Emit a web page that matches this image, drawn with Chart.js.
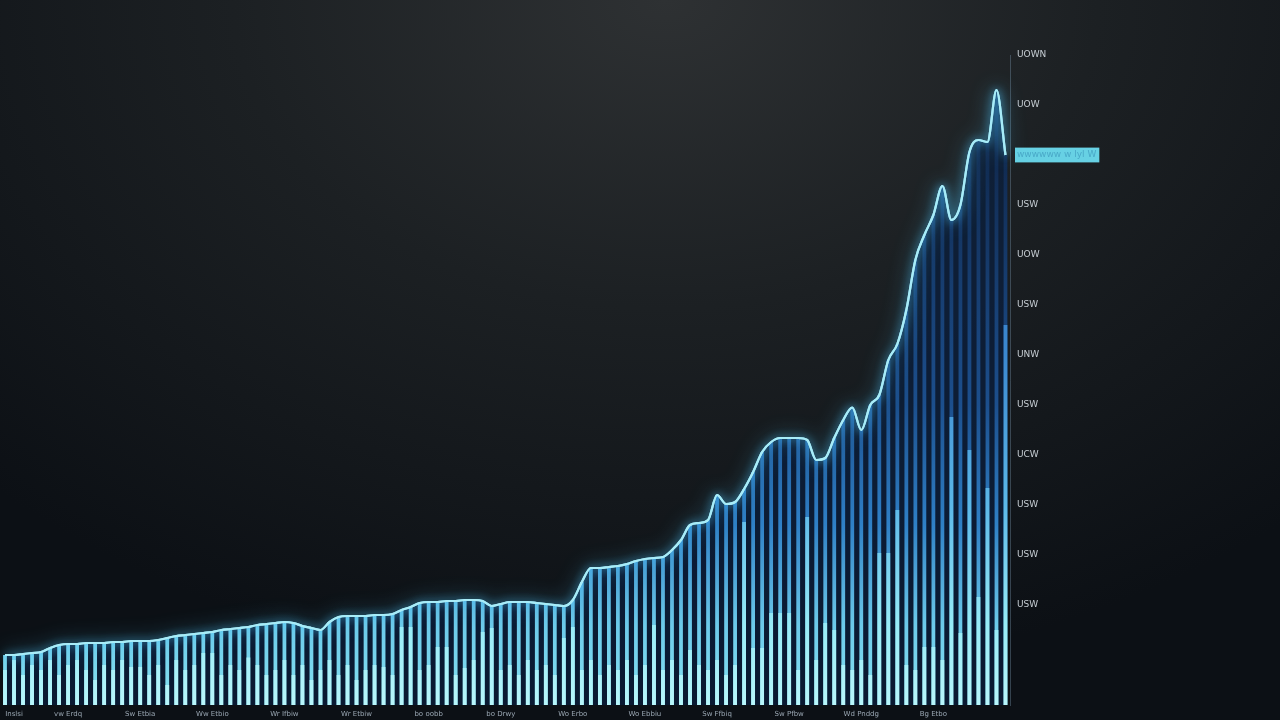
<!DOCTYPE html>
<html>
<head>
<meta charset="utf-8">
<script src="https://cdn.jsdelivr.net/npm/chart.js@4/dist/chart.umd.min.js"></script>
<style>
  html, body { margin: 0; padding: 0; }
  body {
    width: 1280px; height: 720px; overflow: hidden;
    background: radial-gradient(ellipse 75% 95% at 52% 0%, #2e3133 0%, #1c2023 45%, #0c1015 100%);
  }
  #wrap { position: relative; width: 1280px; height: 720px; }
</style>
</head>
<body>
<div id="wrap"><canvas id="c"></canvas></div>
<script>
// ---- data ----
const totals = [
  1.00,1.00,1.02,1.04,1.06,1.14,1.20,1.22,1.22,1.24,
  1.24,1.24,1.26,1.26,1.28,1.28,1.28,1.30,1.34,1.38,
  1.40,1.42,1.44,1.46,1.50,1.52,1.54,1.56,1.60,1.62,
  1.64,1.66,1.64,1.58,1.54,1.50,1.66,1.76,1.78,1.78,
  1.78,1.80,1.80,1.82,1.90,1.96,2.04,2.06,2.06,2.08,
  2.08,2.10,2.10,2.08,1.98,2.02,2.06,2.06,2.06,2.04,
  2.02,2.00,1.98,2.10,2.46,2.74,2.74,2.76,2.78,2.82,
  2.88,2.92,2.94,2.96,3.10,3.30,3.60,3.64,3.70,4.20,
  4.02,4.06,4.32,4.66,5.06,5.26,5.34,5.34,5.34,5.30,
  4.90,4.94,5.34,5.70,5.95,5.50,6.00,6.20,6.90,7.22,
  7.90,8.90,9.40,9.80,10.38,9.70,10.00,11.06,11.30,11.26,
  12.30,11.00
];
const highlights = [
  0.7,0.9,0.6,0.8,0.7,0.9,0.6,0.8,0.9,0.7,
  0.5,0.8,0.7,0.9,0.76,0.76,0.6,0.8,0.4,0.9,
  0.7,0.8,1.04,1.04,0.6,0.8,0.7,0.95,0.8,0.6,
  0.7,0.9,0.6,0.8,0.5,0.7,0.9,0.6,0.8,0.5,
  0.7,0.8,0.76,0.6,1.56,1.56,0.7,0.8,1.16,1.16,
  0.6,0.74,0.9,1.46,1.54,0.7,0.8,0.6,0.9,0.7,
  0.8,0.6,1.34,1.56,0.7,0.9,0.6,0.8,0.7,0.9,
  0.6,0.8,1.6,0.7,0.9,0.6,1.1,0.8,0.7,0.9,
  0.6,0.8,3.66,1.14,1.14,1.84,1.84,1.84,0.7,3.76,
  0.9,1.64,1.5,0.8,0.7,0.9,0.6,3.04,3.04,3.9,
  0.8,0.7,1.16,1.16,0.9,5.76,1.44,5.1,2.16,4.34,
  1.5,7.6
];
// x tick labels and the category index they sit at
const xTickIndex  = [1, 7, 15, 23, 31, 39, 47, 55, 63, 71, 79, 87, 95, 103];
const xTickLabels = ["Inslsi","vw Erdq","Sw Etbia","Ww Etbio","Wr Ifbiw","Wr Etbiw","bo oobb",
                     "bo Drwy","Wo Erbo","Wo Ebbiu","Sw Ffbiq","Sw Pfbw","Wd Pnddg","Bg Etbo"];
// y tick labels (right axis)
const yTickValues = [13, 12, 11, 10, 9, 8, 7, 6, 5, 4, 3, 2];
const yTickLabels = ["UOWN","UOW","wwwwww w lyl W","USW","UOW","USW","UNW","USW","UCW","USW","USW","USW"];
const highlightTick = 11;

const categories = totals.map((_, i) => String(i + 1));

// ---- chart ----
function vGrad(chart, stops) {
  const { ctx, chartArea } = chart;
  if (!chartArea) return null;
  const g = ctx.createLinearGradient(0, chartArea.bottom, 0, chartArea.top);
  const h = chartArea.bottom - chartArea.top;
  stops.forEach(([px, col]) => g.addColorStop(Math.min(1, Math.max(0, px / h)), col));
  return g;
}

const glow = {
  id: 'glow',
  beforeDatasetDraw(chart, args) {
    if (args.meta.type === 'line') {
      const c = chart.ctx;
      c.save();
      c.shadowColor = 'rgba(80,200,255,1)';
      c.shadowBlur = 20;
      // an extra soft pass for a wider halo
      args.meta.dataset.draw(c, chart.chartArea);
      c.shadowBlur = 8;
    }
  },
  afterDatasetDraw(chart, args) {
    if (args.meta.type === 'line') chart.ctx.restore();
  }
};

new Chart(document.getElementById('c'), {
  data: {
    labels: categories,
    datasets: [
      {
        type: 'line',
        data: totals,
        order: 0,
        borderColor: '#a8ecf8',
        borderWidth: 2.2,
        pointRadius: 0,
        cubicInterpolationMode: 'monotone',
        fill: 'origin',
        backgroundColor: 'rgba(10,30,62,0.72)'
      },
      {
        type: 'bar',
        data: highlights,
        order: 1,
        grouped: false,
        barPercentage: 0.42,
        categoryPercentage: 1,
        backgroundColor: (ctx) => vGrad(ctx.chart, [
          [0, '#b8f6fb'], [80, '#98ecf7'], [200, '#5cb8e8'], [350, '#3b88cf'], [650, '#2c6fb8']
        ])
      },
      {
        type: 'bar',
        data: totals,
        order: 2,
        grouped: false,
        barPercentage: 0.42,
        categoryPercentage: 1,
        backgroundColor: (ctx) => vGrad(ctx.chart, [
          [0, '#86e2f2'], [80, '#6ccaea'], [180, '#2f80c6'], [300, '#1c4f8d'], [550, '#112a50'], [650, '#0e2445']
        ])
      }
    ]
  },
  options: {
    responsive: true,
    maintainAspectRatio: false,
    animation: false,
    layout: { padding: { top: 55, left: 0, right: 0, bottom: 0 } },
    plugins: {
      legend: { display: false },
      tooltip: { enabled: false },
      filler: { drawTime: 'beforeDatasetsDraw' }
    },
    scales: {
      x: {
        type: 'category',
        offset: true,
        grid: { display: false, drawTicks: false },
        border: { display: false },
        afterFit: (s) => { s.height = 15; },
        ticks: {
          autoSkip: false,
          maxRotation: 0,
          padding: 5,
          color: '#9aa7b3',
          font: { family: 'DejaVu Sans', size: 7 },
          callback: (v, i) => {
            const k = xTickIndex.indexOf(i);
            return k >= 0 ? xTickLabels[k] : '';
          }
        }
      },
      y: {
        position: 'right',
        min: 0,
        max: 13,
        grid: { display: false, drawTicks: false },
        border: { display: true, color: 'rgba(130,160,185,0.35)', width: 1 },
        afterFit: (s) => { s.width = 270; },
        afterBuildTicks: (s) => { s.ticks = yTickValues.map(v => ({ value: v })); },
        ticks: {
          padding: 7,
          color: (c) => c.tick && c.tick.value === highlightTick ? '#4aa9c8' : '#c5ccd2',
          font: { family: 'DejaVu Sans', size: 9 },
          showLabelBackdrop: (c) => !!(c.tick && c.tick.value === highlightTick),
          backdropColor: 'rgba(110,225,245,0.92)',
          backdropPadding: { top: 2, bottom: 2, left: 2, right: 3 },
          callback: (v) => {
            const k = yTickValues.indexOf(v);
            return k >= 0 ? yTickLabels[k] : '';
          }
        }
      }
    }
  },
  plugins: [glow]
});
</script>
</body>
</html>
